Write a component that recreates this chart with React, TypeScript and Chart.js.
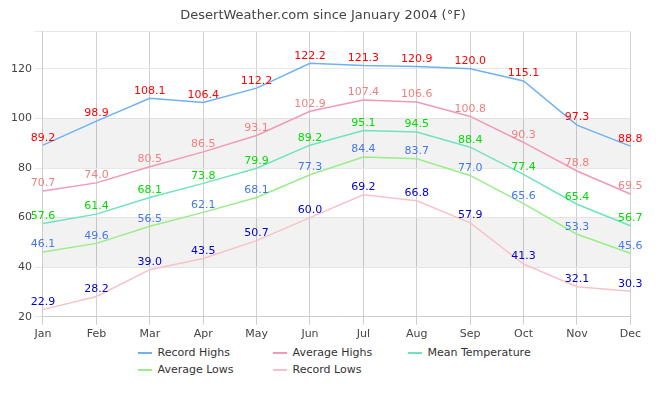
import { useEffect, useRef } from 'react';
import { Chart, registerables } from 'chart.js';

Chart.register(...registerables);

const months = ['Jan', 'Feb', 'Mar', 'Apr', 'May', 'Jun', 'Jul', 'Aug', 'Sep', 'Oct', 'Nov', 'Dec'];
const recordHighs = [89.2, 98.9, 108.1, 106.4, 112.2, 122.2, 121.3, 120.9, 120.0, 115.1, 97.3, 88.8];
const averageHighs = [70.7, 74.0, 80.5, 86.5, 93.1, 102.9, 107.4, 106.6, 100.8, 90.3, 78.8, 69.5];
const meanTemperature = [57.6, 61.4, 68.1, 73.8, 79.9, 89.2, 95.1, 94.5, 88.4, 77.4, 65.4, 56.7];
const averageLows = [46.1, 49.6, 56.5, 62.1, 68.1, 77.3, 84.4, 83.7, 77.0, 65.6, 53.3, 45.6];
const recordLows = [22.9, 28.2, 39.0, 43.5, 50.7, 60.0, 69.2, 66.8, 57.9, 41.3, 32.1, 30.3];
const bands = [[40, 60], [80, 100]];

const seriesNames = ['Record Highs', 'Average Highs', 'Mean Temperature', 'Average Lows', 'Record Lows'];
const lineColors = ['#6fb1f2', '#f09ab5', '#6fe3bd', '#99ee88', '#f7c2c8'];
const labelColors = ['#ff0000', '#f08080', '#00dd00', '#4477ee', '#0000cc'];

const bandPlugin = {
  id: 'bands',
  beforeDatasetsDraw(chart: any) {
    const { ctx, chartArea, scales } = chart;
    ctx.save();
    ctx.fillStyle = 'rgba(0,0,0,0.05)';
    bands.forEach(([a, b]) => {
      const y1 = scales.y.getPixelForValue(b);
      const y2 = scales.y.getPixelForValue(a);
      ctx.fillRect(chartArea.left, y1, chartArea.right - chartArea.left, y2 - y1);
    });
    ctx.restore();
  },
};

const valueLabels = {
  id: 'valueLabels',
  afterDatasetsDraw(chart: any) {
    const { ctx } = chart;
    ctx.save();
    ctx.font = '11px "DejaVu Sans"';
    ctx.textAlign = 'center';
    ctx.textBaseline = 'bottom';
    chart.data.datasets.forEach((ds: any, i: number) => {
      ctx.fillStyle = labelColors[i];
      chart.getDatasetMeta(i).data.forEach((pt: any, j: number) => {
        ctx.fillText(ds.data[j].toFixed(1), pt.x, pt.y - 2);
      });
    });
    ctx.restore();
  },
};

export default function App() {
  const ref = useRef<HTMLCanvasElement>(null);

  useEffect(() => {
    if (!ref.current) return;
    const series = [recordHighs, averageHighs, meanTemperature, averageLows, recordLows];
    const chart = new Chart(ref.current, {
      type: 'line',
      data: {
        labels: months,
        datasets: series.map((data, i) => ({
          label: seriesNames[i], data, borderColor: lineColors[i], backgroundColor: lineColors[i],
          borderWidth: 1.5, pointRadius: 0, tension: 0, fill: false,
        })),
      },
      options: {
        animation: false,
        responsive: false,
        layout: { padding: { right: 6 } },
        plugins: {
          title: {
            display: true,
            text: 'DesertWeather.com since January 2004 (°F)',
            color: '#444',
            font: { family: 'DejaVu Sans', size: 13, weight: 'normal' },
            padding: { top: 0, bottom: 8 },
          },
          legend: { display: false },
          tooltip: { enabled: false },
        },
        scales: {
          x: {
            offset: false,
            grid: { color: '#d0d0d0' },
            border: { color: '#ccc' },
            ticks: { color: '#444', font: { family: 'DejaVu Sans', size: 11 } },
          },
          y: {
            min: 20,
            max: 135,
            ticks: {
              stepSize: 20,
              color: '#444',
              font: { family: 'DejaVu Sans', size: 11 },
              callback: (v: any) => (v % 20 === 0 ? v : ''),
            },
            grid: { color: '#e8e8e8' },
            border: { color: '#ccc' },
          },
        },
      },
      plugins: [bandPlugin, valueLabels],
    });
    return () => chart.destroy();
  }, []);

  return (
    <div style={{ width: 644 }}>
      <canvas ref={ref} width={636} height={336} />
      <div style={{ display: 'grid', gridTemplateColumns: 'repeat(3, 135px)', justifyContent: 'center',
        rowGap: 4, marginTop: 2, marginLeft: 20, fontFamily: '"DejaVu Sans"', fontSize: 11, color: '#333' }}>
        {seriesNames.map((n, i) => (
          <div key={n} style={{ display: 'flex', alignItems: 'center' }}>
            <span style={{ display: 'inline-block', width: 14, height: 2, background: lineColors[i], marginRight: 6 }} />
            {n}
          </div>
        ))}
      </div>
    </div>
  );
}
